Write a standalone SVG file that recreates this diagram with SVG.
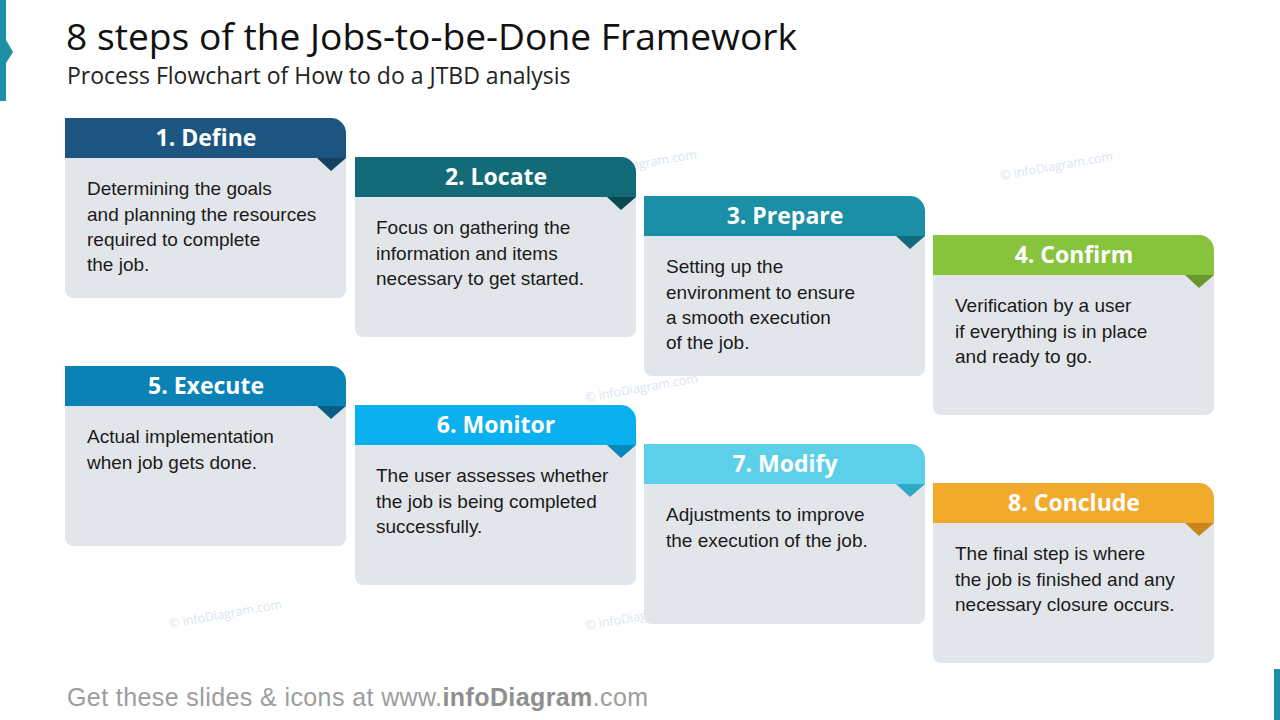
<svg xmlns="http://www.w3.org/2000/svg" width="1280" height="720" viewBox="0 0 1280 720">
<style>
.body{fill:#e2e6eb}
.ttl{font-family:"Open Sans","Liberation Sans",sans-serif;font-weight:700;font-size:23px;fill:#fff;text-anchor:middle}
.txt{font-family:"Liberation Sans",Arial,sans-serif;font-size:19px;fill:#1a1a1a}
.wm{font-family:"Open Sans","Liberation Sans",sans-serif;font-size:12.5px;fill:#dbe4f2}
</style>
<defs>
<path id="hdr" d="M0,40 V0 H266 A15,15 0 0 1 281,15 V40 Z"/>
<path id="bdy" d="M0,40 H281 V172 A8,8 0 0 1 273,180 H8 A8,8 0 0 1 0,172 Z"/>
<polygon id="fold" points="252,40 281,40 266,53"/>
</defs>
<rect width="1280" height="720" fill="#fff"/>
<!-- accents -->
<path d="M0,0 H6 V40 L13,52 L6,63 V101 H0 Z" fill="#1a8fa5"/>
<rect x="1274" y="669" width="6" height="51" fill="#1a8fa5"/>
<!-- titles -->
<text x="66" y="50" font-family="Open Sans, Liberation Sans, sans-serif" font-size="37.2" fill="#111">8 steps of the Jobs-to-be-Done Framework</text>
<text x="67" y="84" font-family="Open Sans, Liberation Sans, sans-serif" font-size="23" fill="#222">Process Flowchart of How to do a JTBD analysis</text>
<!-- watermarks -->
<g id="watermarks">
<text class="wm" transform="translate(1001,180) rotate(-10)">© infoDiagram.com</text>
<text class="wm" transform="translate(585,178) rotate(-10)">© infoDiagram.com</text>
<text class="wm" transform="translate(586,402) rotate(-10)">© infoDiagram.com</text>
<text class="wm" transform="translate(170,628) rotate(-10)">© infoDiagram.com</text>
<text class="wm" transform="translate(586,630) rotate(-10)">© infoDiagram.com</text>
</g>
<g id="connectors"></g>
<g id="step1" transform="translate(65,118)">
<use href="#bdy" class="body"/><use href="#hdr" fill="#1c5680"/><use href="#fold" fill="#15405f"/>
<text class="ttl" x="141" y="28">1. Define</text>
<text class="txt" x="22" y="77">Determining the goals</text>
<text class="txt" x="22" y="103">and planning the resources</text>
<text class="txt" x="22" y="128">required to complete</text>
<text class="txt" x="22" y="153">the job.</text>
</g>
<g id="step2" transform="translate(355,157)">
<use href="#bdy" class="body"/><use href="#hdr" fill="#136b78"/><use href="#fold" fill="#0c4852"/>
<text class="ttl" x="141" y="28">2. Locate</text>
<text class="txt" x="21" y="77">Focus on gathering the</text>
<text class="txt" x="21" y="103">information and items</text>
<text class="txt" x="21" y="128">necessary to get started.</text>
</g>
<g id="step3" transform="translate(644,196)">
<use href="#bdy" class="body"/><use href="#hdr" fill="#1a8fa5"/><use href="#fold" fill="#126b7c"/>
<text class="ttl" x="141" y="28">3. Prepare</text>
<text class="txt" x="22" y="77">Setting up the</text>
<text class="txt" x="22" y="103">environment to ensure</text>
<text class="txt" x="22" y="128">a smooth execution</text>
<text class="txt" x="22" y="153">of the job.</text>
</g>
<g id="step4" transform="translate(933,235)">
<use href="#bdy" class="body"/><use href="#hdr" fill="#88c33d"/><use href="#fold" fill="#69962d"/>
<text class="ttl" x="141" y="28">4. Confirm</text>
<text class="txt" x="22" y="77">Verification by a user</text>
<text class="txt" x="22" y="103">if everything is in place</text>
<text class="txt" x="22" y="128">and ready to go.</text>
</g>
<g id="step5" transform="translate(65,366)">
<use href="#bdy" class="body"/><use href="#hdr" fill="#0a82b6"/><use href="#fold" fill="#0a5e85"/>
<text class="ttl" x="141" y="28">5. Execute</text>
<text class="txt" x="22" y="77">Actual implementation</text>
<text class="txt" x="22" y="103">when job gets done.</text>
</g>
<g id="step6" transform="translate(355,405)">
<use href="#bdy" class="body"/><use href="#hdr" fill="#0bb1ef"/><use href="#fold" fill="#0888b9"/>
<text class="ttl" x="141" y="28">6. Monitor</text>
<text class="txt" x="21" y="77">The user assesses whether</text>
<text class="txt" x="21" y="103">the job is being completed</text>
<text class="txt" x="21" y="128">successfully.</text>
</g>
<g id="step7" transform="translate(644,444)">
<use href="#bdy" class="body"/><use href="#hdr" fill="#5bd0e8"/><use href="#fold" fill="#2fa9c6"/>
<text class="ttl" x="141" y="28">7. Modify</text>
<text class="txt" x="22" y="77">Adjustments to improve</text>
<text class="txt" x="22" y="103">the execution of the job.</text>
</g>
<g id="step8" transform="translate(933,483)">
<use href="#bdy" class="body"/><use href="#hdr" fill="#f2aa2d"/><use href="#fold" fill="#c8861b"/>
<text class="ttl" x="141" y="28">8. Conclude</text>
<text class="txt" x="22" y="77">The final step is where</text>
<text class="txt" x="22" y="103">the job is finished and any</text>
<text class="txt" x="22" y="128">necessary closure occurs.</text>
</g>
<text x="67" y="706" font-family="Liberation Sans, Arial, sans-serif" font-size="25" letter-spacing="0.4" fill="#9d9d9d">Get these slides &amp; icons at www.<tspan font-weight="700" fill="#8f8f8f">infoDiagram</tspan>.com</text>
</svg>
